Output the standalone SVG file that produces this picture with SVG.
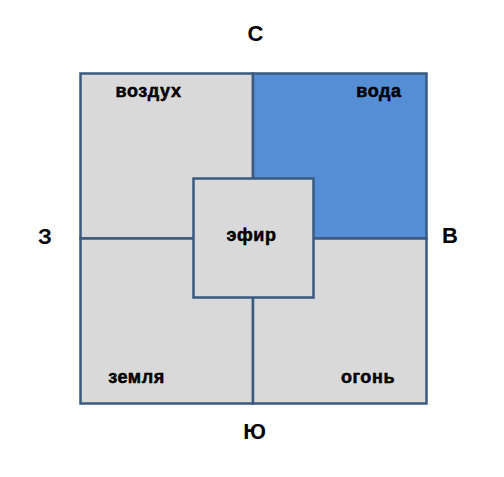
<svg xmlns="http://www.w3.org/2000/svg" width="504" height="477" viewBox="0 0 504 477">
<style>
.cell{fill:#D9D9D9;stroke:#3B5A80;stroke-width:2.5}
.blue{fill:#558ED5}
.lbl{font-family:"Liberation Sans",Arial,sans-serif;font-weight:bold;font-size:18px;letter-spacing:0.6px;fill:#000;stroke:#000;stroke-width:0.5px;text-anchor:middle}
.dir{font-family:"Liberation Sans",Arial,sans-serif;font-weight:bold;font-size:22px;fill:#000;text-anchor:middle}
</style>
<rect width="504" height="477" fill="#fff"/>
<g id="air"><rect class="cell" x="80.5" y="73.5" width="172.5" height="165"/><text class="lbl" x="148.5" y="97">воздух</text></g>
<g id="water"><rect class="cell blue" x="253" y="73.5" width="173.5" height="165"/><text class="lbl" x="379" y="97">вода</text></g>
<g id="earth"><rect class="cell" x="80.5" y="238.5" width="172.5" height="165"/><text class="lbl" x="136.5" y="383">земля</text></g>
<g id="fire"><rect class="cell" x="253" y="238.5" width="173.5" height="165"/><text class="lbl" x="368" y="383">огонь</text></g>
<g id="ether"><rect class="cell" x="193.5" y="178.5" width="120" height="119"/><text class="lbl" x="251.5" y="241">эфир</text></g>
<g id="connectors"></g>
<g id="directions">
<text class="dir" x="255.5" y="41">С</text>
<text class="dir" x="45" y="244">З</text>
<text class="dir" x="450" y="243">В</text>
<text class="dir" x="254.5" y="439">Ю</text>
</g>
</svg>
